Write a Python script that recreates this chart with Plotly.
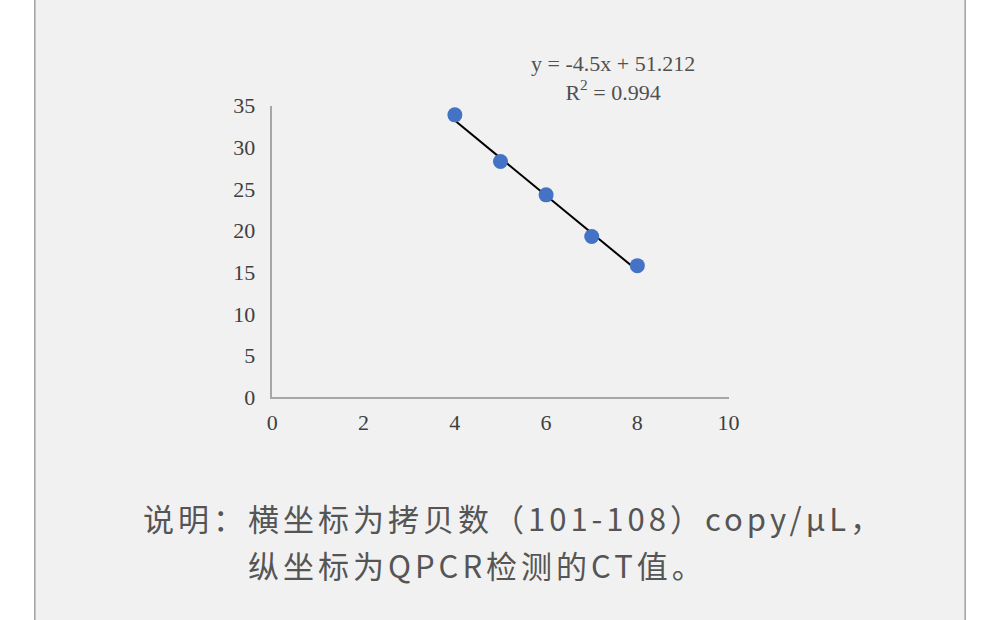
import plotly.graph_objects as go

# data
copies_log = [4, 5, 6, 7, 8]
ct_values = [33.9, 28.3, 24.3, 19.3, 15.8]

# fitted line as printed on the chart
slope = -4.5
intercept = 51.212
fit_x = [copies_log[0], copies_log[-1]]
fit_y = [slope * v + intercept for v in fit_x]

x_ticks = [0, 2, 4, 6, 8, 10]
y_ticks = [0, 5, 10, 15, 20, 25, 30, 35]

caption_1 = "说明：横坐标为拷贝数（101-108）copy/μL，"
caption_2 = "纵坐标为QPCR检测的CT值。"


# the photographed page comes out slightly shrunk and shifted, so pixel
# targets are converted to paper fractions through that mapping
def fx(px):
    return (px - 3) / 0.989 / 1000


def fy(py):
    return 1 - (py - 8) / 0.973 / 620


fig = go.Figure()

fig.add_trace(go.Scatter(x=fit_x, y=fit_y, mode="lines",
                         line=dict(color="black", width=2), showlegend=False))
fig.add_trace(go.Scatter(x=copies_log, y=ct_values, mode="markers",
                         marker=dict(color="#4472C4", size=15), showlegend=False))

tick_font = dict(family="Liberation Serif", size=22, color="#404040")
cap_font = dict(family="Noto Sans CJK SC", size=31, color="#555555")

fig.update_layout(
    width=1000, height=620,
    margin=dict(l=0, r=0, t=0, b=0),
    paper_bgcolor="white",
    plot_bgcolor="rgba(0,0,0,0)",
    xaxis=dict(domain=[fx(271), fx(730)], range=[0, 10], tickvals=x_ticks,
               showgrid=False, zeroline=False, showline=True,
               linecolor="#a6a6a6", linewidth=1.5, ticks="",
               tickfont=tick_font, ticklabelstandoff=5),
    yaxis=dict(domain=[fy(398.6), fy(103)], range=[0, 35], tickvals=y_ticks,
               showgrid=False, zeroline=False, showline=True,
               linecolor="#a6a6a6", linewidth=1.5, ticks="",
               tickfont=tick_font, ticklabelstandoff=11),
    shapes=[
        # grey card behind everything
        dict(type="rect", xref="paper", yref="paper", x0=fx(32), x1=fx(968), y0=-0.1, y1=1.1,
             fillcolor="#f1f1f1", line=dict(width=0), layer="below"),
        dict(type="line", xref="paper", yref="paper", x0=fx(32), x1=fx(32), y0=-0.1, y1=1.1,
             line=dict(color="#8a8a8a", width=1.2), layer="below"),
        dict(type="line", xref="paper", yref="paper", x0=fx(968), x1=fx(968), y0=-0.1, y1=1.1,
             line=dict(color="#8a8a8a", width=1.2), layer="below"),
    ],
    annotations=[
        dict(xref="paper", yref="paper", x=fx(614), y=fy(75), xanchor="center", yanchor="middle",
             text="y = -4.5x + 51.212<br>R<sup>2</sup> = 0.994", showarrow=False,
             font=dict(family="Liberation Serif", size=22, color="#505050")),
        dict(xref="paper", yref="paper", x=fx(139), y=fy(521), xanchor="left", yanchor="middle",
             text='<span style="letter-spacing:4px">' + caption_1 + "</span>", showarrow=False,
             font=cap_font),
        dict(xref="paper", yref="paper", x=fx(244), y=fy(568), xanchor="left", yanchor="middle",
             text='<span style="letter-spacing:4px">' + caption_2 + "</span>", showarrow=False,
             font=cap_font),
    ],
)

fig.write_html("out.html", config={"displayModeBar": False},
               post_script="document.body.style.margin='0';")
